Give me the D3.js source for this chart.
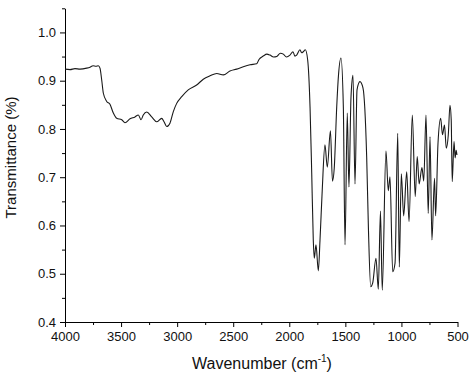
<!DOCTYPE html>
<html>
<head>
<meta charset="utf-8">
<script src="https://cdn.jsdelivr.net/npm/d3@7"></script>
<style>
  html, body { margin: 0; padding: 0; background: #fff; }
  svg { display: block; font-family: 'Liberation Sans', Arial, sans-serif; }
</style>
</head>
<body>
<div id="chart"></div>
<script>
// IR spectrum
const wavenumber = [
  4000, 3955, 3911, 3866, 3807, 3777, 3750, 3724, 3703, 3688,
  3673, 3658, 3628, 3599, 3569, 3539, 3494, 3465, 3420, 3376,
  3346, 3322, 3302, 3271, 3227, 3182, 3138, 3117, 3093, 3064,
  3034, 3004, 2959, 2901, 2826, 2767, 2707, 2647, 2588, 2529,
  2469, 2410, 2350, 2291, 2270, 2232, 2200, 2172, 2140, 2112,
  2080, 2053, 2025, 1994, 1967, 1950, 1934, 1905, 1890, 1875,
  1857, 1836, 1815, 1800, 1786, 1777,
  1762, 1741, 1726, 1706, 1682, 1661, 1633, 1615, 1599, 1577,
  1561, 1539, 1518, 1503, 1483, 1468, 1450, 1432, 1414, 1396,
  1370, 1343, 1310, 1294, 1274, 1256, 1227, 1206, 1187, 1171,
  1138, 1117, 1102, 1078, 1057, 1033, 1019, 1001, 980, 953,
  932, 903, 877, 859, 842, 817, 801, 781, 761, 745,
  728, 705, 695, 674, 650, 634, 616, 600, 582, 567,
  556, 547, 531, 521, 512, 505
];
const transmittance = [
  0.924, 0.923, 0.925, 0.924, 0.926, 0.928, 0.931, 0.930, 0.931, 0.926,
  0.902, 0.874, 0.857, 0.851, 0.833, 0.822, 0.819, 0.813, 0.821, 0.825,
  0.829, 0.819, 0.829, 0.835, 0.825, 0.815, 0.822, 0.815, 0.805, 0.812,
  0.836, 0.853, 0.867, 0.881, 0.891, 0.903, 0.910, 0.915, 0.912, 0.920,
  0.924, 0.929, 0.933, 0.935, 0.944, 0.951, 0.955, 0.953, 0.949, 0.950,
  0.957, 0.955, 0.949, 0.953, 0.960, 0.951, 0.953, 0.964, 0.958, 0.960,
  0.964, 0.943, 0.846, 0.709, 0.570, 0.532,
  0.560, 0.506, 0.570, 0.674, 0.767, 0.721, 0.796, 0.692, 0.719, 0.846,
  0.912, 0.947, 0.846, 0.560, 0.833, 0.680, 0.864, 0.911, 0.686, 0.881,
  0.898, 0.885, 0.743, 0.591, 0.473, 0.481, 0.532, 0.468, 0.630, 0.466,
  0.754, 0.672, 0.701, 0.504, 0.522, 0.791, 0.514, 0.707, 0.620, 0.711,
  0.608, 0.829, 0.660, 0.743, 0.686, 0.720, 0.692, 0.829, 0.625, 0.784,
  0.570, 0.698, 0.620, 0.770, 0.822, 0.788, 0.808, 0.760, 0.788, 0.849,
  0.819, 0.691, 0.774, 0.740, 0.756, 0.746
];
const xTicks = [4000, 3500, 3000, 2500, 2000, 1500, 1000, 500];
const xMinor = [3750, 3250, 2750, 2250, 1750, 1250, 750];
const yTicks = [0.4, 0.5, 0.6, 0.7, 0.8, 0.9, 1.0];
const yMinor = [0.45, 0.55, 0.65, 0.75, 0.85, 0.95, 1.05];

const width = 474;
const height = 380;
const plotLeft = 65;
const plotRight = 457.5;
const plotTop = 8.3;
const plotBottom = 322;

const data = wavenumber.map((w, i) => ({w: w, t: transmittance[i]}));

const svg = d3.select('#chart')
  .append('svg')
    .attr('width', width)
    .attr('height', height);

const x = d3.scaleLinear().domain([4000, 500]).range([plotLeft, plotRight]);
const y = d3.scaleLinear().domain([0.4, 1.05]).range([plotBottom, plotTop]);

// minor ticks first, no labels
svg.append('g')
    .attr('transform', `translate(0,${plotBottom})`)
    .call(d3.axisBottom(x).tickValues(xMinor).tickSize(3).tickFormat(''))
    .call(g => g.select('.domain').remove());
svg.append('g')
    .attr('transform', `translate(${plotLeft},0)`)
    .call(d3.axisLeft(y).tickValues(yMinor).tickSize(3).tickFormat(''))
    .call(g => g.select('.domain').remove());

svg.append('g')
    .attr('transform', `translate(0,${plotBottom})`)
    .call(d3.axisBottom(x).tickValues(xTicks).tickSize(5).tickSizeOuter(0)
      .tickPadding(5).tickFormat(d3.format('d')));
svg.append('g')
    .attr('transform', `translate(${plotLeft},0)`)
    .call(d3.axisLeft(y).tickValues(yTicks).tickSize(5).tickSizeOuter(0)
      .tickPadding(4).tickFormat(d3.format('.1f')));

svg.selectAll('.tick text')
    .attr('font-size', 13)
    .attr('font-family', "'Liberation Sans', Arial, sans-serif")
    .attr('fill', '#111');

svg.append('path')
    .datum(data)
    .attr('fill', 'none')
    .attr('stroke', '#1a1a1a')
    .attr('stroke-width', 1.1)
    .attr('stroke-linejoin', 'round')
    .attr('d', d3.line()
      .x(d => x(d.w))
      .y(d => y(d.t))
      .curve(d3.curveMonotoneX));

// axis titles
svg.append('text')
    .attr('transform', `translate(16,157.5) rotate(-90)`)
    .attr('text-anchor', 'middle')
    .attr('font-size', 15)
    .attr('fill', '#111')
    .text('Transmittance (%)');

const xt = svg.append('text')
    .attr('x', 262)
    .attr('y', 368.5)
    .attr('text-anchor', 'middle')
    .attr('font-size', 16)
    .attr('fill', '#111');
xt.append('tspan').text('Wavenumber (cm');
xt.append('tspan').attr('font-size', 10).attr('dy', -7).text('-1');
xt.append('tspan').attr('dy', 7).text(')');
</script>
</body>
</html>
